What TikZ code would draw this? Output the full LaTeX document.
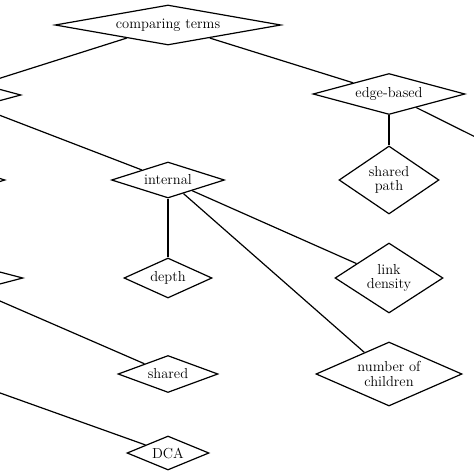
\documentclass[tikz,border=0pt]{standalone}
\usetikzlibrary{shapes.geometric}
\begin{document}
\begin{tikzpicture}[x=1pt,y=-1pt,
  dia/.style={diamond, draw, line width=1.2pt, inner sep=0pt, align=center,
    font=\fontsize{14.5}{14.5}\selectfont},
  link/.style={line width=1.2pt}]
\useasboundingbox (0,0) rectangle (474,474);
\clip (0,0) rectangle (474,474);
% nodes
\node[dia, shape aspect=5.65, minimum width=226pt, minimum height=40pt] (ct) at (168,25) {comparing terms};
\node[dia, shape aspect=3.7, minimum width=148pt, minimum height=40pt] (nb) at (-53,95) {};
\node[dia, shape aspect=3.7, minimum width=152pt, minimum height=41pt] (eb) at (389,94) {edge-based};
\node[dia, shape aspect=3.2, minimum width=116pt, minimum height=36pt] (l2) at (-53,180) {};
\node[dia, shape aspect=3.1, minimum width=113pt, minimum height=36pt] (in) at (168,180) {internal};
\node[dia, shape aspect=1.47, minimum width=100pt, minimum height=68pt] (sp) at (389,180) {shared\\path};
\node[dia, shape aspect=3.8, minimum width=152pt, minimum height=40pt] (l3) at (-53,278) {};
\node[dia, shape aspect=2.2, minimum width=88pt, minimum height=40pt] (de) at (168,278) {depth};
\node[dia, shape aspect=1.54, minimum width=108pt, minimum height=70pt] (ld) at (389,278) {link\\density};
\node[dia, shape aspect=2.7, minimum width=100pt, minimum height=37pt] (sh) at (168,374) {shared};
\node[dia, shape aspect=2.28, minimum width=146pt, minimum height=64pt] (nc) at (389,374) {number of\\children};
\node[dia, shape aspect=2.4, minimum width=82pt, minimum height=34pt] (dca) at (168,453) {DCA};
\coordinate (l4) at (-53,374);
\coordinate (r2) at (610,204);
% connectors
\draw[link] (ct) -- (nb);
\draw[link] (ct) -- (eb);
\draw[link] (nb) -- (in);
\draw[link] (eb) -- (sp);
\draw[link] (eb) -- (r2);
\draw[link] (in) -- (de);
\draw[link] (in) -- (ld);
\draw[link] (in) -- (nc);
\draw[link] (l3) -- (sh);
\draw[link] (l4) -- (dca);
\end{tikzpicture}
\end{document}
